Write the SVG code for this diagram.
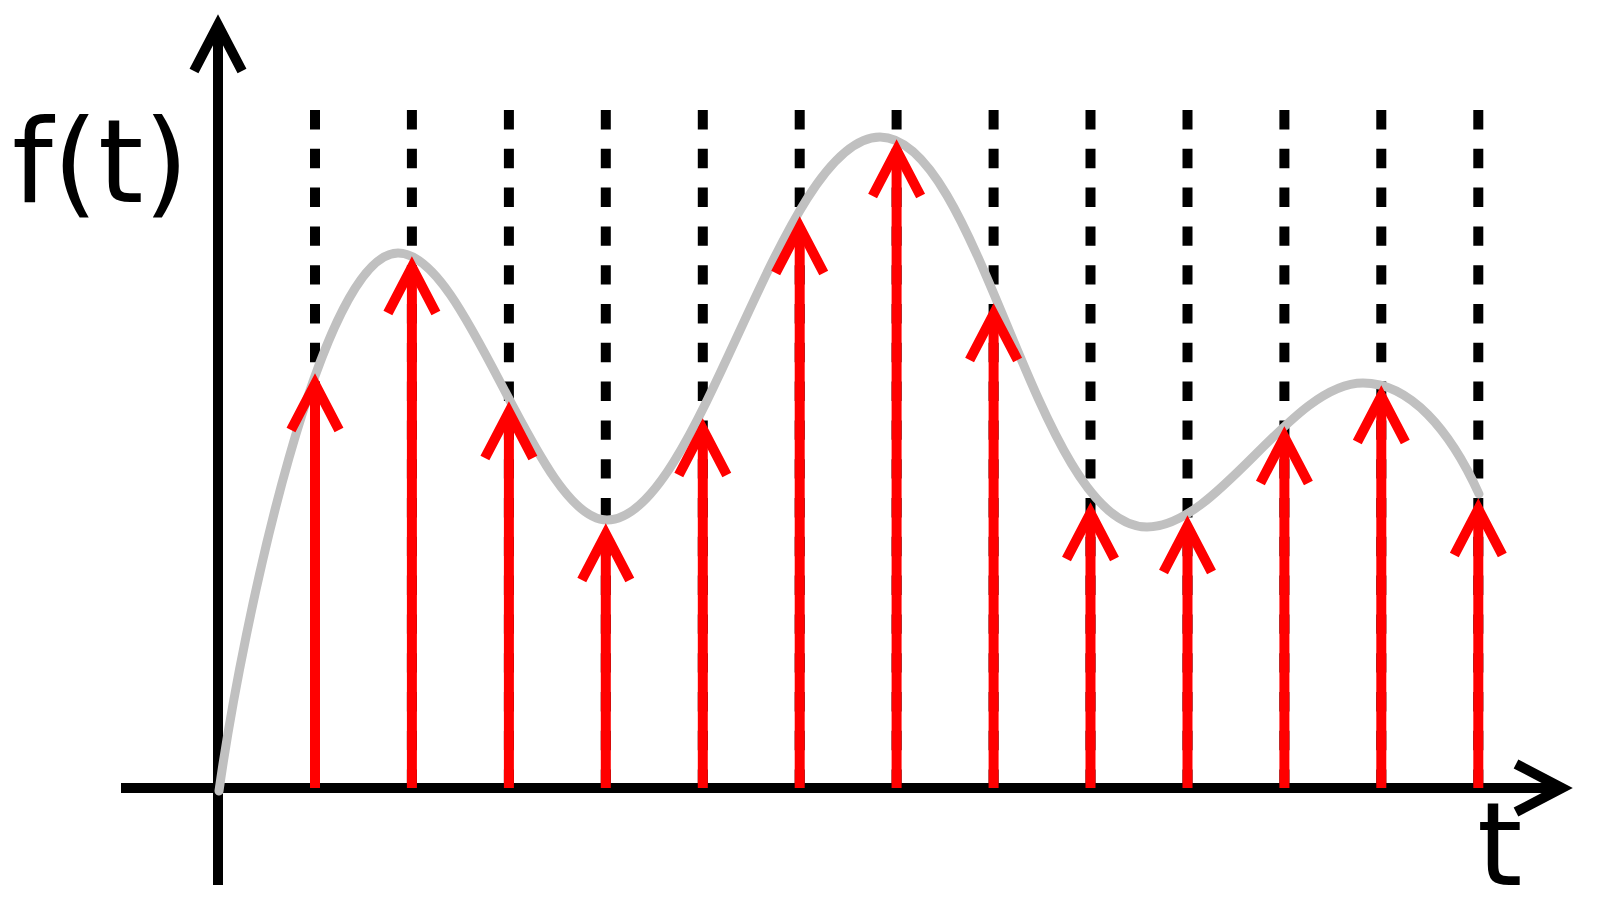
<svg xmlns="http://www.w3.org/2000/svg" width="1600" height="902" viewBox="0 0 1600 902">
<defs>
<style>
.axis{stroke:#000;stroke-width:10;fill:none}
.dash{stroke:#000;stroke-width:10;stroke-dasharray:19.4 19.4;fill:none}
.curve{stroke:#c0c0c0;stroke-width:9;fill:none;stroke-linecap:round}
.imp{stroke:#ff0000;stroke-width:10;fill:none}
.lbl{font-family:"DejaVu Sans",sans-serif;font-size:116px;fill:#000}
</style>
<marker id="hk" markerUnits="userSpaceOnUse" orient="auto" markerWidth="80" markerHeight="80" refX="0" refY="0" viewBox="-60 -40 80 80" overflow="visible">
<path d="M-46,-24 L0,0 L-46,24" fill="none" stroke="#000" stroke-width="10" stroke-miterlimit="10"/>
</marker>
<marker id="hr" markerUnits="userSpaceOnUse" orient="auto" markerWidth="80" markerHeight="80" refX="0" refY="0" viewBox="-60 -40 80 80" overflow="visible">
<path d="M-46,-24 L0,0 L-46,24" fill="none" stroke="#ff0000" stroke-width="10" stroke-miterlimit="10"/>
</marker>
</defs>
<rect width="1600" height="902" fill="#fff"/>
<g id="samples-grid">
<line class="dash" x1="315" y1="110" x2="315" y2="788"/>
<line class="dash" x1="411.9" y1="110" x2="411.9" y2="788"/>
<line class="dash" x1="508.9" y1="110" x2="508.9" y2="788"/>
<line class="dash" x1="605.8" y1="110" x2="605.8" y2="788"/>
<line class="dash" x1="702.8" y1="110" x2="702.8" y2="788"/>
<line class="dash" x1="799.7" y1="110" x2="799.7" y2="788"/>
<line class="dash" x1="896.6" y1="110" x2="896.6" y2="788"/>
<line class="dash" x1="993.6" y1="110" x2="993.6" y2="788"/>
<line class="dash" x1="1090.5" y1="110" x2="1090.5" y2="788"/>
<line class="dash" x1="1187.5" y1="110" x2="1187.5" y2="788"/>
<line class="dash" x1="1284.4" y1="110" x2="1284.4" y2="788"/>
<line class="dash" x1="1381.3" y1="110" x2="1381.3" y2="788"/>
<line class="dash" x1="1478.3" y1="110" x2="1478.3" y2="788"/>
</g>
<g id="axes">
<line class="axis" x1="121" y1="788" x2="1562" y2="788" marker-end="url(#hk)"/>
<line class="axis" x1="218" y1="885" x2="218" y2="25" marker-end="url(#hk)"/>
</g>
<g id="signal">
<path class="curve" d="M219,791 C243,620 322,253 398,253 C468,253 537,520 607,520 C700,520 780,137 880,137 C980,137 1037,527 1147,527 C1219,527 1291,383 1363,383 C1410,383 1450,430 1479,494"/>
</g>
<g id="impulses">
<line class="imp" x1="315" y1="788" x2="315" y2="384" marker-end="url(#hr)"/>
<line class="imp" x1="411.9" y1="788" x2="411.9" y2="267" marker-end="url(#hr)"/>
<line class="imp" x1="508.9" y1="788" x2="508.9" y2="412" marker-end="url(#hr)"/>
<line class="imp" x1="605.8" y1="788" x2="605.8" y2="534" marker-end="url(#hr)"/>
<line class="imp" x1="702.8" y1="788" x2="702.8" y2="429" marker-end="url(#hr)"/>
<line class="imp" x1="799.7" y1="788" x2="799.7" y2="227" marker-end="url(#hr)"/>
<line class="imp" x1="896.6" y1="788" x2="896.6" y2="150" marker-end="url(#hr)"/>
<line class="imp" x1="993.6" y1="788" x2="993.6" y2="314" marker-end="url(#hr)"/>
<line class="imp" x1="1090.5" y1="788" x2="1090.5" y2="513" marker-end="url(#hr)"/>
<line class="imp" x1="1187.5" y1="788" x2="1187.5" y2="526" marker-end="url(#hr)"/>
<line class="imp" x1="1284.4" y1="788" x2="1284.4" y2="437" marker-end="url(#hr)"/>
<line class="imp" x1="1381.3" y1="788" x2="1381.3" y2="396" marker-end="url(#hr)"/>
<line class="imp" x1="1478.3" y1="788" x2="1478.3" y2="509" marker-end="url(#hr)"/>
</g>
<g id="labels">
<text class="lbl" x="12" y="202">f(t)</text>
<text class="lbl" x="1477" y="885">t</text>
</g>
</svg>
